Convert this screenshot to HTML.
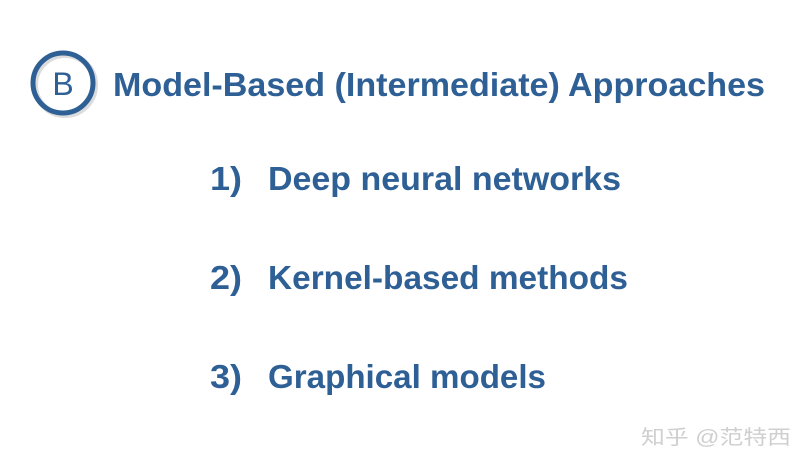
<!DOCTYPE html>
<html><head><style>body{margin:0;background:#fff}svg{display:block}</style></head>
<body>
<svg width="810" height="470" xmlns="http://www.w3.org/2000/svg">
<circle cx="65" cy="85" r="30" fill="none" stroke="#dcdcdc" stroke-width="6"/>
<circle cx="63" cy="83" r="30" fill="none" stroke="#2e5f95" stroke-width="5"/>
<text x="63" y="95" text-anchor="middle" font-family="Liberation Sans, sans-serif" font-size="32" fill="#2e5f95">B</text>
<g font-family="Liberation Sans, sans-serif" font-weight="bold" fill="#2e5f95" font-size="33">
<text x="113" y="96" textLength="652" lengthAdjust="spacingAndGlyphs">Model-Based (Intermediate) Approaches</text>
<text x="210" y="190" textLength="32" lengthAdjust="spacingAndGlyphs">1)</text>
<text x="268" y="190" textLength="353" lengthAdjust="spacingAndGlyphs">Deep neural networks</text>
<text x="210" y="289" textLength="32" lengthAdjust="spacingAndGlyphs">2)</text>
<text x="268" y="289" textLength="360" lengthAdjust="spacingAndGlyphs">Kernel-based methods</text>
<text x="210" y="388" textLength="32" lengthAdjust="spacingAndGlyphs">3)</text>
<text x="268" y="388" textLength="278" lengthAdjust="spacingAndGlyphs">Graphical models</text>
</g>
<text x="641" y="444" font-family="Liberation Sans, 'Noto Sans CJK SC', sans-serif" font-size="20" fill="#cfcfcf" textLength="150" lengthAdjust="spacingAndGlyphs">知乎 @范特西</text>
</svg>
</body></html>
